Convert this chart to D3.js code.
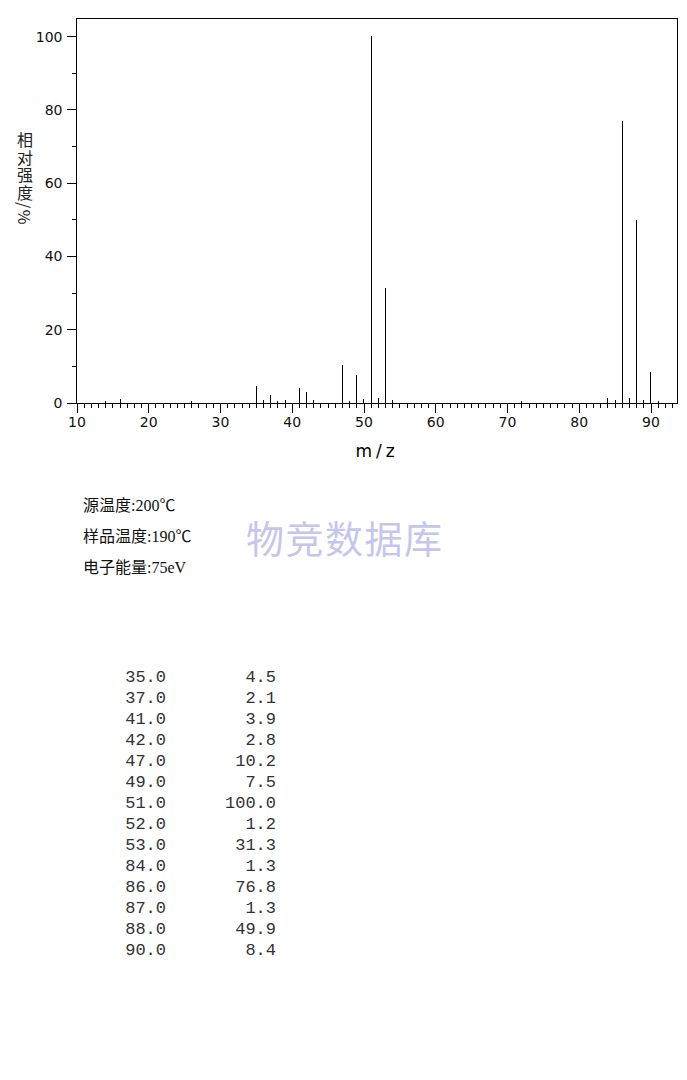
<!DOCTYPE html>
<html><head><meta charset="utf-8">
<script src="https://cdn.jsdelivr.net/npm/d3@7"></script>
<style>
html,body{margin:0;padding:0;background:#fff;}
svg{display:block;}
</style></head>
<body>
<script>
// m/z values and relative intensities (%)
const mzValues = [14, 16, 26, 35, 36, 37, 38, 39, 41, 42, 43, 47, 48, 49, 50, 51, 52, 53, 54, 72, 84, 85, 86, 87, 88, 89, 90, 91];
const intensities = [0.5, 0.9, 0.3, 4.5, 0.6, 2.1, 0.4, 0.6, 3.9, 2.8, 0.6, 10.2, 0.4, 7.5, 0.9, 100.0, 1.2, 31.3, 0.6, 0.3, 1.3, 0.8, 76.8, 1.3, 49.9, 0.6, 8.4, 0.3];
const xTickLabels = [10, 20, 30, 40, 50, 60, 70, 80, 90];
const yTickLabels = [0, 20, 40, 60, 80, 100];
const yAxisTitle = "相对强度/%";
const xAxisTitle = "m/z";
const infoLines = ["源温度:200℃", "样品温度:190℃", "电子能量:75eV"];
const watermark = "物竞数据库";
const tableMinIntensity = 1.0;

const W = 687, H = 1080;
const svg = d3.select("body").append("svg").attr("width", W).attr("height", H);

const pLeft = 76.5, pRight = 677.5, pTop = 18.5, pBottom = 402.5;
const x = d3.scaleLinear().domain([10, 10 + (pRight - pLeft) / 7.175]).range([pLeft, pRight]);
const y = d3.scaleLinear().domain([0, 100]).range([pBottom, 36]);

// frame
svg.append("path")
  .attr("d", `M${pLeft},${pBottom}V${pTop}H${pRight}V${pBottom}`)
  .attr("fill", "none").attr("stroke", "#000").attr("stroke-width", 1)
  .attr("shape-rendering", "crispEdges");

// x axis
const xAxisMajor = d3.axisBottom(x).tickValues(xTickLabels).tickSize(10).tickSizeOuter(0).tickFormat(d3.format("d")).tickPadding(4);
const xAxisMinor = d3.axisBottom(x).tickValues(d3.range(11, 94).filter(v => v % 10 !== 0)).tickSize(5).tickSizeOuter(0).tickFormat("");
const gxm = svg.append("g").attr("transform", `translate(0,${pBottom})`).call(xAxisMinor);
const gx = svg.append("g").attr("transform", `translate(0,${pBottom})`).call(xAxisMajor);
[gx, gxm].forEach(g => {
  g.select(".domain").attr("stroke", "#000").attr("shape-rendering", "crispEdges");
  g.selectAll(".tick line").attr("stroke", "#000").attr("shape-rendering", "crispEdges");
});
gx.selectAll(".tick text").attr("fill", "#111").attr("font-family", "DejaVu Sans").attr("font-size", 14).attr("dy", "0.72em");

// y axis
const yAxisMajor = d3.axisLeft(y).tickValues(yTickLabels).tickSize(10).tickSizeOuter(0).tickPadding(4);
const yAxisMinor = d3.axisLeft(y).tickValues([10, 30, 50, 70, 90]).tickSize(5).tickSizeOuter(0).tickFormat("");
const gym = svg.append("g").attr("transform", `translate(${pLeft},0)`).call(yAxisMinor);
const gy = svg.append("g").attr("transform", `translate(${pLeft},0)`).call(yAxisMajor);
[gy, gym].forEach(g => {
  g.select(".domain").remove();
  g.selectAll(".tick line").attr("stroke", "#000").attr("shape-rendering", "crispEdges");
});
gy.selectAll(".tick text").attr("fill", "#111").attr("font-family", "DejaVu Sans").attr("font-size", 14).attr("dy", "0.36em");

// bars
svg.append("g").selectAll("line")
  .data(mzValues.map((m, i) => ({ m, v: intensities[i] })))
  .join("line")
  .attr("x1", d => Math.round(x(d.m)) + 0.5).attr("x2", d => Math.round(x(d.m)) + 0.5)
  .attr("y1", pBottom).attr("y2", d => y(d.v))
  .attr("stroke", "#000").attr("stroke-width", 1)
  .attr("shape-rendering", "crispEdges");

// axis titles
svg.append("text").attr("x", (pLeft + pRight) / 2).attr("y", 457)
  .attr("text-anchor", "middle").attr("font-family", "DejaVu Sans").attr("font-size", 17)
  .attr("letter-spacing", 4).attr("fill", "#000").text(xAxisTitle);

svg.append("text").attr("x", 25).attr("y", 132)
  .attr("style", "writing-mode: vertical-rl; text-orientation: mixed;")
  .attr("font-family", "Noto Sans CJK SC").attr("font-size", 16)
  .attr("letter-spacing", 1.5).attr("fill", "#222").text(yAxisTitle);

// info text
infoLines.forEach((t, i) => {
  svg.append("text").attr("x", 83).attr("y", 511 + i * 31)
    .attr("font-family", "'Liberation Serif','Noto Sans CJK SC'").attr("font-size", 16)
    .attr("fill", "#111").text(t);
});

// watermark
svg.append("text").attr("x", 246).attr("y", 553)
  .attr("font-family", "Noto Sans CJK SC").attr("font-size", 38)
  .attr("fill", "#c6c6ec").attr("textLength", 196).text(watermark);

// table
const rows = mzValues.map((m, i) => ({ m, v: intensities[i] })).filter(d => d.v >= tableMinIntensity);
const tg = svg.append("g").attr("font-family", "Liberation Mono").attr("font-size", 17).attr("fill", "#333");
rows.forEach((d, i) => {
  const yy = 682 + i * 21;
  tg.append("text").attr("x", 166).attr("y", yy).attr("text-anchor", "end").text(d.m.toFixed(1));
  tg.append("text").attr("x", 276).attr("y", yy).attr("text-anchor", "end").text(d.v.toFixed(1));
});
</script>
</body></html>
